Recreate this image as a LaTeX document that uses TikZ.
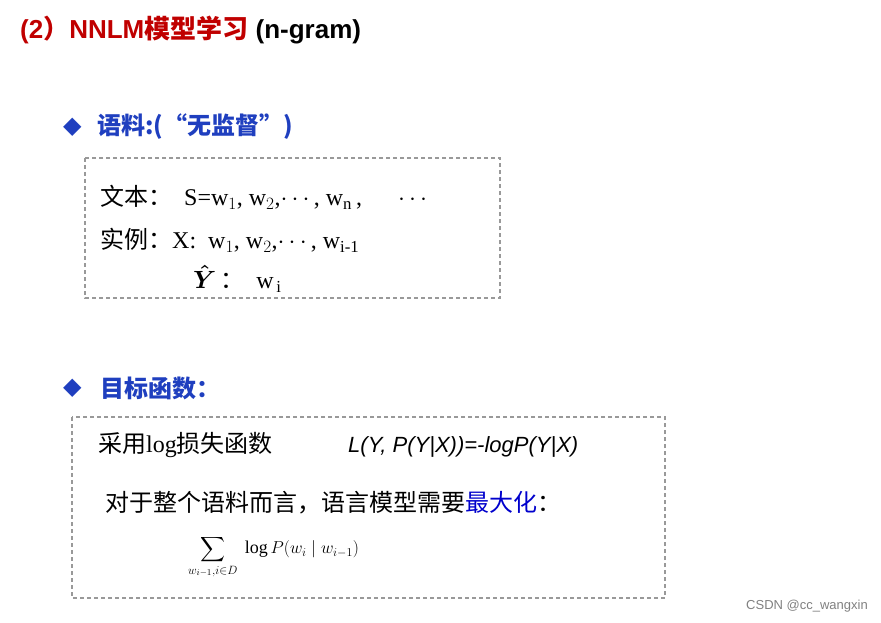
\documentclass[tikz,border=0pt]{standalone}
\usepackage{amsmath}
\usepackage{exscale}
\usepackage{fontspec}
\setmainfont{Liberation Serif}
\setsansfont{Liberation Sans}
\newfontfamily\cjk{Noto Sans CJK SC}
\newfontfamily\dv{DejaVu Sans}
\definecolor{tred}{HTML}{C00000}
\definecolor{tblue}{HTML}{1F3FBF}
\definecolor{mblue}{HTML}{0000CC}
\begin{document}
\begin{tikzpicture}[x=1pt,y=-1pt,
  dbox/.style={draw=gray!80,line width=1.1pt,dash pattern=on 4pt off 3pt},
  head/.style={anchor=west,text=tblue,inner sep=0pt,font=\fontsize{24}{26}\selectfont\cjk\bfseries},
  dia/.style={anchor=west,text=tblue,inner sep=0pt,font=\fontsize{24}{26}\selectfont\dv},
  txt/.style={anchor=west,font=\fontsize{24}{26}\selectfont,inner sep=0pt}]
\useasboundingbox (0,0) rectangle (881,623);
\node[anchor=west,inner sep=0pt] (title) at (20,30) {\fontsize{26}{28}\selectfont\sffamily\bfseries\textcolor{tred}{(2{\cjk\bfseries ）}NNLM{\cjk\bfseries 模型学习}} (n-gram)};
\node[dia] (d1) at (63,127) {◆};
\node[head] (h1) at (97,127) {语料:(“无监督”)};
\draw[dbox] (85,158) rectangle (500,298);
\node[txt] (l1) at (100,197) {{\cjk 文本：}\ \ S=w$_1$, w$_2$,$\cdots$, w$_\text{n}$\,,\quad\ \ $\cdots$};
\node[txt] (l2) at (100,240) {{\cjk 实例：}X:\ \ w$_1$, w$_2$,$\cdots$, w$_\text{i-1}$};
\node[txt] (l3) at (193,279) {$\boldsymbol{\hat{Y}}$\,{\cjk ：}\ \ w$_\text{\,i}$};
\node[dia] (d2) at (63,388) {◆};
\node[head] (h2) at (100,388) {目标函数：};
\draw[dbox] (72,417) rectangle (665,598);
\node[txt] (l4) at (98,445) {{\cjk 采用}log{\cjk 损失函数}};
\node[anchor=west,inner sep=0pt] (f1) at (348,447) {\fontsize{22}{24}\selectfont\sffamily\itshape L(Y, P(Y|X))=-logP(Y|X)};
\node[txt] (l5) at (105,503) {\cjk 对于整个语料而言，语言模型需要\textcolor{mblue}{最大化}：};
\node[anchor=west,inner sep=0pt] (f2) at (188,557) {\fontsize{18}{20}\selectfont$\displaystyle\sum_{w_{i-1},i\in D}\ \log P(w_i\mid w_{i-1})$};
\node[anchor=east,text=gray,inner sep=0pt] (wm) at (868,606) {\fontsize{13}{15}\selectfont\sffamily CSDN @cc\_wangxin};
\end{tikzpicture}
\end{document}
